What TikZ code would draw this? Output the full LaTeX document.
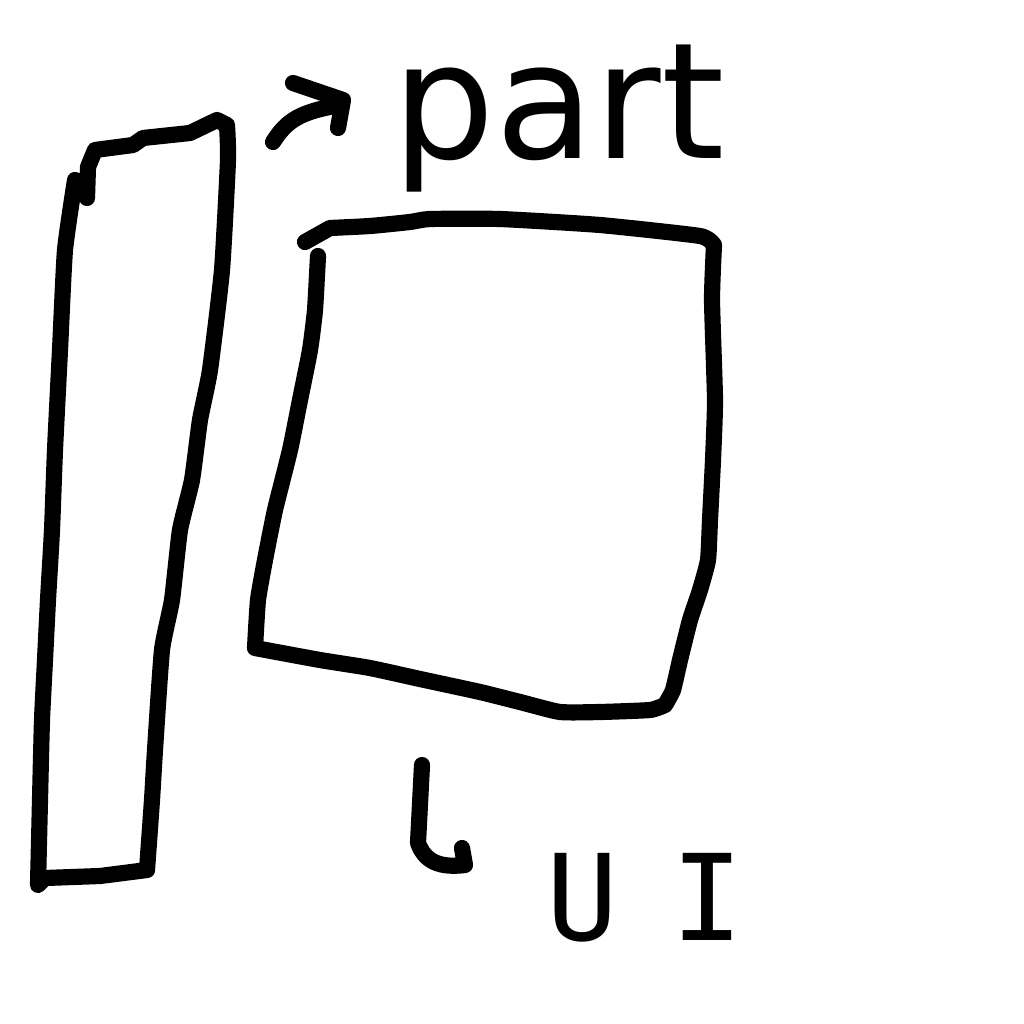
\documentclass[tikz,border=0pt]{standalone}
\usepackage{fontspec}
\setmainfont{DejaVu Sans}
\newfontfamily\penmono{DejaVu Sans Mono}
\tikzset{pen/.style={line width=4.6pt,line cap=round,line join=round}}
\begin{document}
\begin{tikzpicture}[x=0.01cm,y=-0.01cm]
\useasboundingbox (0,0) rectangle (1024,1024);
% tall strip on the left
\draw[pen] plot[smooth,tension=.3] coordinates{(75,180) (65,250) (60,350) (55,450) (52,530) (48,600) (45,660) (42,720) (40,800) (38,885)}
  -- (45,878) -- (100,876) -- (147,870)
  plot[smooth,tension=.3] coordinates{(147,870) (152,800) (155,750) (162,650) (172,600) (180,530) (192,480) (200,420) (210,370) (222,270) (228,160) (227,125)}
  -- (217,120) -- (190,133) -- (143,138) -- (133,145) -- (95,150) -- (88,167) -- (87,198);
% big box
\draw[pen] plot[smooth,tension=.3] coordinates{(318,256) (315,310) (310,350) (300,400) (290,450) (275,510) (265,560) (258,600) (255,648)}
  plot[smooth,tension=.3] coordinates{(255,648) (320,660) (370,668) (420,679) (480,692) (520,702) (560,712) (600,712) (650,710) (665,705)}
  plot[smooth,tension=.3] coordinates{(665,705) (673,690) (680,660) (690,620) (700,590) (708,560) (710,520) (713,460) (715,400) (712,300) (714,245)}
  plot[smooth,tension=.3] coordinates{(714,245) (700,236) (600,225) (500,219) (430,219) (410,222) (370,226) (330,228)} -- (305,242);
% labels
\node[font=\fontsize{46}{46}\selectfont,anchor=base west,inner sep=0pt] (part) at (392,158) {part};
\draw[pen] (273,142) .. controls (287,120) and (300,112) .. (340,105);
\draw[pen] (293,83) -- (343,100) -- (338,128);
\draw[pen] (422,765) -- (418,843) .. controls (425,862) and (440,868) .. (465,865) -- (462,848);
\node[font=\penmono\fontsize{34}{34}\selectfont,anchor=base,inner sep=0pt] (ui) at (645,940) {U\hspace{.45em}I};
\end{tikzpicture}
\end{document}
